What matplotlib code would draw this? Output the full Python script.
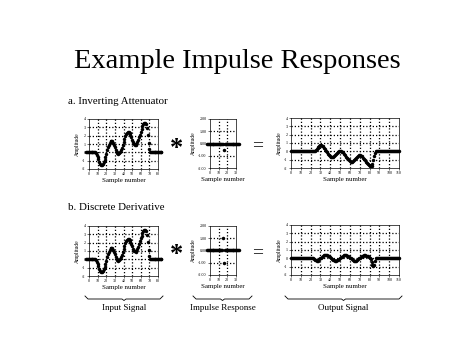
#!/usr/bin/env python3

import numpy as np
import matplotlib.pyplot as plt

plt.rcParams['font.family'] = ['Liberation Serif', 'DejaVu Serif']

# input signal, samples 8..70 (zero elsewhere)
input_start = 8
input_vals = [-0.10, -0.30, -0.55, -0.85, -1.15, -1.38, -1.50, -1.48, -1.38, -1.18,
              -0.89, -0.54, -0.16, 0.23, 0.60, 0.92, 1.17, 1.33, 1.38, 1.32,
              1.16, 0.91, 0.62, 0.32, 0.07, -0.09, -0.15, -0.10, 0.04, 0.26,
              0.55, 0.89, 1.24, 1.59, 1.91, 2.17, 2.35, 2.45, 2.45, 2.33,
              2.12, 1.84, 1.54, 1.26, 1.05, 0.94, 0.93, 1.03, 1.21, 1.47,
              1.79, 2.14, 2.50, 2.83, 3.12, 3.35, 3.49, 3.54, 3.42, 2.95,
              2.10, 1.15, 0.35]

# impulse responses (sample: value, zero elsewhere)
impulse_a = {16: -0.5}
impulse_b = {15: 1.0, 16: -1.0}

# output of inverting attenuator, samples 24..86
out_a_start = 24
out_a_vals = [0.05, 0.15, 0.28, 0.43, 0.58, 0.69, 0.75, 0.74, 0.69, 0.59,
              0.45, 0.27, 0.08, -0.12, -0.30, -0.46, -0.59, -0.67, -0.69, -0.66,
              -0.58, -0.46, -0.31, -0.16, -0.04, 0.05, 0.08, 0.05, -0.02, -0.13,
              -0.28, -0.45, -0.62, -0.80, -0.96, -1.09, -1.18, -1.23, -1.23, -1.17,
              -1.06, -0.92, -0.77, -0.63, -0.53, -0.47, -0.47, -0.52, -0.61, -0.74,
              -0.90, -1.07, -1.25, -1.42, -1.56, -1.68, -1.75, -1.77, -1.71, -1.48,
              -1.05, -0.58, -0.18]

# output of discrete derivative, samples 23..86
out_b_start = 23
out_b_vals = [-0.10, -0.20, -0.25, -0.30, -0.30, -0.23, -0.12, 0.02, 0.10, 0.20,
              0.29, 0.35, 0.38, 0.39, 0.37, 0.32, 0.25, 0.16, 0.05, -0.06,
              -0.16, -0.25, -0.29, -0.30, -0.25, -0.16, -0.06, 0.05, 0.14, 0.22,
              0.29, 0.34, 0.35, 0.35, 0.32, 0.26, 0.18, 0.10, 0.00, -0.12,
              -0.21, -0.28, -0.30, -0.28, -0.21, -0.11, -0.01, 0.10, 0.18, 0.26,
              0.32, 0.35, 0.36, 0.33, 0.29, 0.23, 0.14, 0.05, -0.12, -0.47,
              -0.85, -0.95, -0.80, -0.35]

sig_ticks = [-2, -1, 0, 1, 2, 3, 4]
imp_ticks = [-2, -1, 0, 1, 2]

W, H = 474, 355
fig = plt.figure(figsize=(W / 100, H / 100), dpi=100)


def box(l, t, r, b):
    return [l / W, 1 - b / H, (r - l) / W, (b - t) / H]


def series(lo, hi, start, vals):
    n = np.arange(lo, hi + 1)
    y = np.zeros(len(n))
    i = start - lo
    y[i:i + len(vals)] = vals
    return n, y


def panel(rect, n, y, xmax, yticks, fmt):
    ax = fig.add_axes(rect)
    ax.set_xlim(0, xmax)
    ax.set_ylim(yticks[0], yticks[-1])
    xt = list(range(0, xmax + 1, 10))
    ax.set_xticks(xt)
    ax.set_yticks(yticks)
    ax.set_yticklabels([fmt.format(v) for v in yticks])
    for v in xt[1:-1]:
        ax.axvline(v, color='k', lw=0.9, ls=(0, (1, 1.6)), zorder=1)
    for v in yticks[1:-1]:
        ax.axhline(v, color='k', lw=0.9, ls=(0, (1, 1.6)), zorder=1)
    ax.plot(n, y, 'o', color='k', ms=2.5, mew=0, clip_on=False, zorder=3)
    ax.tick_params(labelsize=3, length=1.5, width=0.4, pad=1)
    for s in ax.spines.values():
        s.set_linewidth(0.5)
    ax.set_xlabel('Sample number', fontsize=5, labelpad=1)
    ax.set_ylabel('Amplitude', fontsize=4, labelpad=1.5)
    return ax


rows = [(119, 169, 'a. Inverting Attenuator', impulse_a, out_a_start, out_a_vals),
        (226, 276, 'b. Discrete Derivative', impulse_b, out_b_start, out_b_vals)]

for top, bot, label, imp, o_start, o_vals in rows:
    n, y = series(-3, 84, input_start, input_vals)
    panel(box(89, top, 158, bot), n, y, 80, sig_ticks, '{:d}')

    ni = np.arange(-3, 34)
    yi = np.array([imp.get(k, 0.0) for k in ni])
    panel(box(210, top, 236, bot - 1), ni, yi, 30, imp_ticks, '{:.2f}')

    no, yo = series(0, 110, o_start, o_vals)
    panel(box(291, top - 1, 399, bot - 1), no, yo, 110, sig_ticks, '{:d}')

    fig.text(68 / W, 1 - (top - 18) / H, label, fontsize=7.8, va='center')
    fig.text(177 / W, 1 - (top + 29) / H, '*', fontsize=19, ha='center', va='center',
             fontweight='bold')
    fig.text(258 / W, 1 - (top + 27) / H, '=', fontsize=14, ha='center', va='center')

fig.text(0.5, 1 - 62 / H, 'Example Impulse Responses', fontsize=20.5, ha='center', va='center')

# braces under the bottom row
ov = fig.add_axes([0, 0, 1, 1])
ov.set_xlim(0, W)
ov.set_ylim(H, 0)
ov.axis('off')
braces = [(85, 163, 'Input Signal'), (193, 252, 'Impulse Response'), (285, 402, 'Output Signal')]
yb = 299
for x0, x1, name in braces:
    xc = (x0 + x1) / 2
    ov.plot([x0, x0 + 3, xc - 2, xc, xc + 2, x1 - 3, x1],
            [yb - 3, yb, yb, yb + 1.5, yb, yb, yb - 3], color='k', lw=0.6)
    ov.text(xc, yb + 9, name, fontsize=6.5, ha='center', va='center')

fig.savefig('out.png', dpi=100)
